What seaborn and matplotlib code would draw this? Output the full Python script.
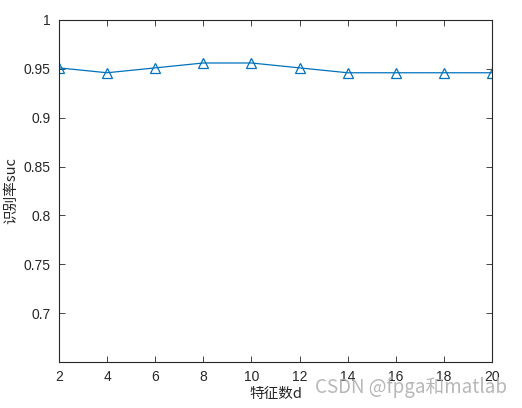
import numpy as np
import pandas as pd
import matplotlib
matplotlib.use('Agg')
import matplotlib.pyplot as plt
import seaborn as sns

# 数据
feature_num = [2, 4, 6, 8, 10, 12, 14, 16, 18, 20]
success_rate = [0.951, 0.946, 0.951, 0.956, 0.956, 0.951, 0.946, 0.946, 0.946, 0.946]
y_ticks = [0.7, 0.75, 0.8, 0.85, 0.9, 0.95, 1]
y_tick_labels = ['0.7', '0.75', '0.8', '0.85', '0.9', '0.95', '1']

df = pd.DataFrame({'d': feature_num, 'suc': success_rate})

sns.set_theme(style='white')
plt.rcParams['font.family'] = ['Liberation Sans', 'Noto Sans CJK SC', 'DejaVu Sans']

fig = plt.figure(figsize=(5.22, 4.08), dpi=100)
ax = fig.add_axes([0.113, 0.1127, 0.8295, 0.8383])

sns.lineplot(data=df, x='d', y='suc', ax=ax, color='#0072BD', linewidth=0.9,
             marker='^', markersize=6.5, markerfacecolor='none',
             markeredgecolor='#0072BD', markeredgewidth=0.9)

ax.set_xlim(2, 20)
ax.set_ylim(0.65, 1)
ax.set_xticks(feature_num)
ax.set_yticks(y_ticks)
ax.set_yticklabels(y_tick_labels)
ax.tick_params(direction='in', length=4, width=0.6, labelsize=10,
               top=True, right=True, left=True, bottom=True,
               colors='#262626', labelcolor='#262626', pad=6)
for s in ax.spines.values():
    s.set_linewidth(0.8)
    s.set_color('#262626')

ax.set_xlabel('特征数d', fontsize=10.5, color='#262626', labelpad=2,
              family=['Noto Sans CJK SC', 'DejaVu Sans'])
ax.set_ylabel('识别率suc', fontsize=10.5, color='#262626', labelpad=4,
              family=['Noto Sans CJK SC', 'DejaVu Sans'])

# 水印
fig.text(0.972, 0.05, 'CSDN @fpga和matlab', ha='right', va='center',
         fontsize=13.5, color='#b0b0b0', alpha=0.9,
         family=['Noto Sans CJK SC', 'DejaVu Sans'])

fig.savefig('out.png', dpi=100)
